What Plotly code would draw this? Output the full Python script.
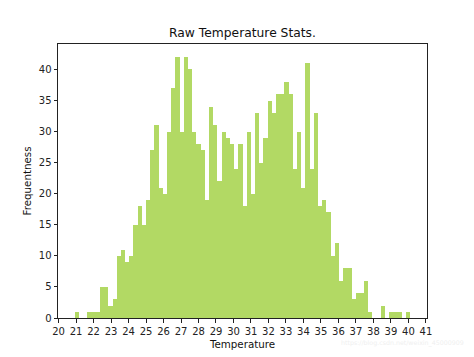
import numpy as np
import plotly.graph_objects as go

# Histogram data (80 equal-width bins)
bin_start = 20.93
bin_end = 40.10
counts = [1, 0, 0, 1, 1, 1, 5, 5, 2, 3,
          10, 11, 9, 10, 15, 18, 15, 19, 27, 31,
          21, 20, 30, 37, 42, 30, 42, 40, 30, 28,
          27, 19, 34, 31, 22, 30, 29, 28, 24, 28,
          18, 30, 20, 33, 25, 29, 35, 33, 36, 36,
          38, 36, 24, 30, 21, 41, 24, 33, 18, 19,
          17, 10, 12, 6, 8, 8, 3, 4, 4, 6,
          1, 0, 0, 2, 0, 1, 1, 1, 0, 1]
x_ticks = list(range(20, 42))
y_ticks = [0, 5, 10, 15, 20, 25, 30, 35, 40]

edges = np.linspace(bin_start, bin_end, len(counts) + 1)
centers = (edges[:-1] + edges[1:]) / 2
width = edges[1] - edges[0]

fig = go.Figure(go.Bar(
    x=centers, y=counts, width=width,
    marker=dict(color="rgb(178,217,100)", line=dict(width=0)),
))

font = "DejaVu Sans, sans-serif"
axis_common = dict(
    showline=True, linecolor="#222", linewidth=1, mirror=True,
    ticks="outside", ticklen=3.5, tickcolor="#222", tickwidth=1,
    showgrid=False, zeroline=False, automargin=False,
    tickfont=dict(family=font, size=10, color="#222"),
)
# page body has an 8px margin, so the figure is 8px smaller and margins shifted
fig.update_layout(
    width=466, height=349,
    margin=dict(l=50, r=47, t=36, b=39),
    paper_bgcolor="white", plot_bgcolor="white",
    bargap=0,
    showlegend=False,
    title=dict(text="Raw Temperature Stats.", x=0.5, xanchor="center",
               xref="paper", y=1 - 25 / 349, yanchor="middle",
               font=dict(family=font, size=12.3, color="#111")),
    xaxis=dict(range=[19.97, 41.06], tickvals=x_ticks,
               title=dict(text="Temperature", standoff=5,
                          font=dict(family=font, size=10.3, color="#111")),
               **axis_common),
    yaxis=dict(range=[0, 44.1], tickvals=y_ticks,
               title=dict(text="Frequentness", standoff=5,
                          font=dict(family=font, size=10.3, color="#111")),
               **axis_common),
    annotations=[dict(text="https://blog.csdn.net/weixin_45000909",
                      xref="paper", yref="paper", x=1.105, y=-0.09,
                      xanchor="right", yanchor="middle", showarrow=False,
                      font=dict(family=font, size=6.3, color="#efefef"))],
)

fig.write_html("out.html")
